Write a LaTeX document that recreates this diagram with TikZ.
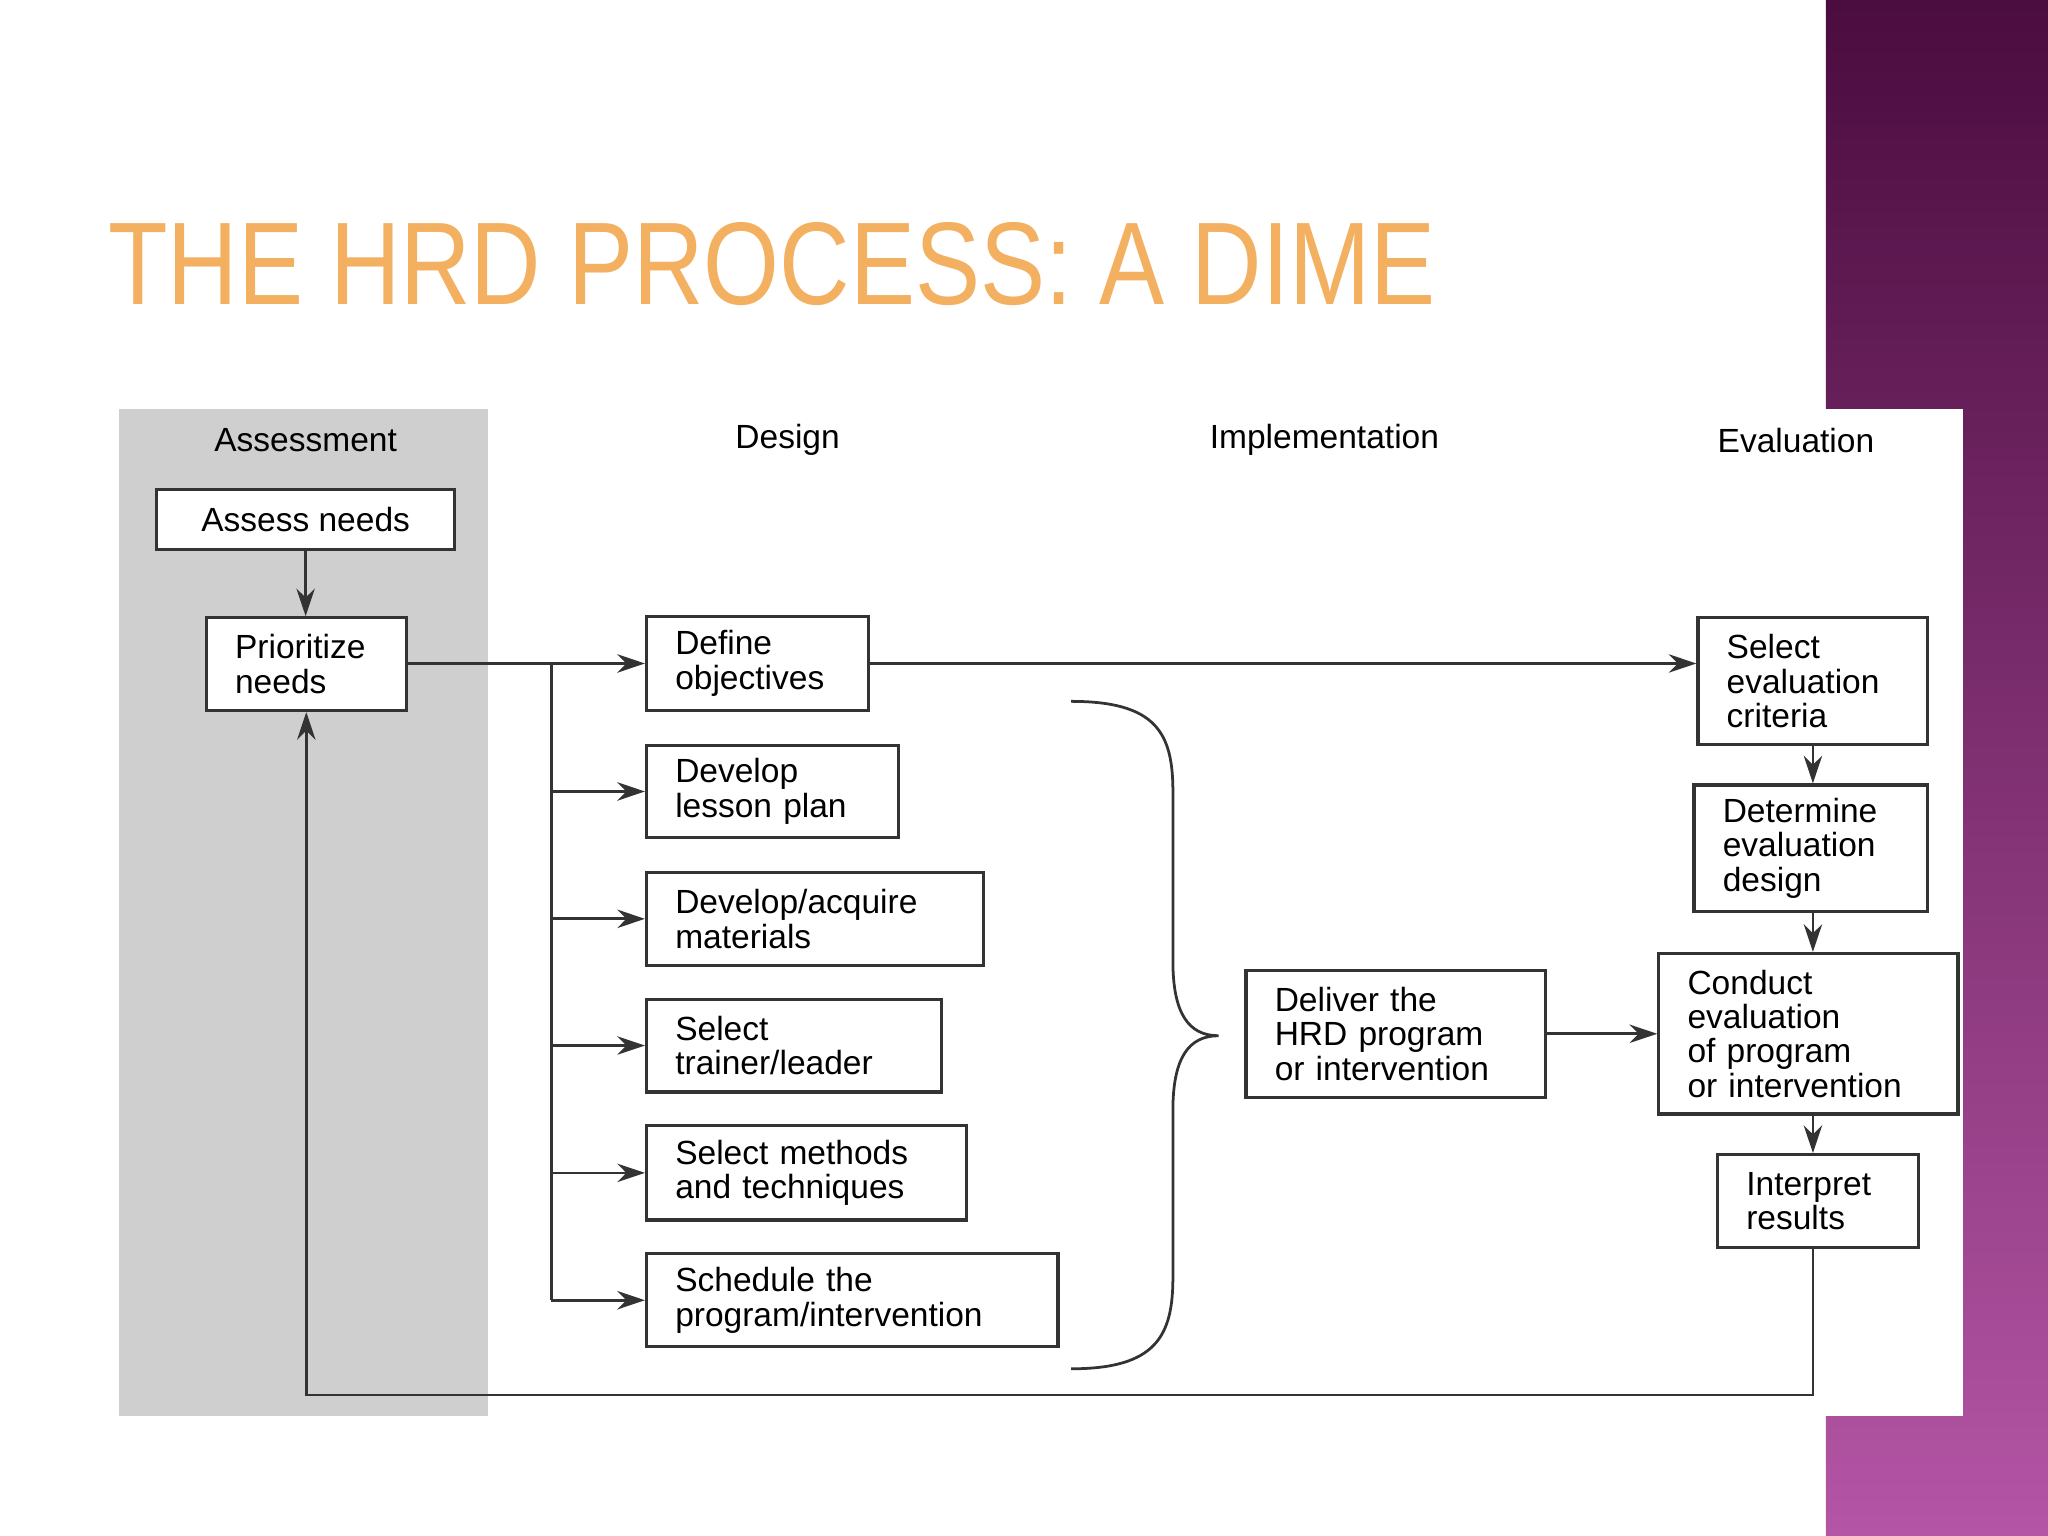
\documentclass[tikz,border=0pt]{standalone}
\usepackage{fontspec}
\setmainfont{Liberation Sans}
\usetikzlibrary{arrows.meta,calc}
\definecolor{titleor}{HTML}{F2B060}
\definecolor{colgrey}{HTML}{D0CFD0}
\tikzset{
  box/.style={draw=black!80,line width=0.7pt,inner xsep=0.22cm,inner ysep=0pt,align=left,font=\fontsize{7.3}{7.5}\selectfont,fill=white},
  hdr/.style={font=\fontsize{7.3}{8}\selectfont},
  arr/.style={line width=0.6pt,draw=black!80,-{Stealth[length=6pt,width=4pt]}},
  ln/.style={line width=0.6pt,draw=black!80}
}
\begin{document}
\begin{tikzpicture}
\useasboundingbox (0,0) rectangle (15.68,11.76);
\fill[white] (0,0) rectangle (15.68,11.76);
\shade[top color={rgb,255:red,75;green,12;blue,63},bottom color={rgb,255:red,180;green,85;blue,165}] (13.98,0) rectangle (15.68,11.76);
\node[text=titleor,font=\fontsize{25.6}{28}\selectfont,xscale=0.83] (title) at (5.91,9.74) {THE HRD PROCESS: A DIME};
\fill[white] (0.91,0.92) rectangle (15.03,8.63);
\fill[colgrey] (0.91,0.92) rectangle (3.74,8.63);
\node[hdr] (h1) at (2.34,8.39) {Assessment};
\node[hdr] (h2) at (6.03,8.39) {Design};
\node[hdr] (h3) at (10.14,8.39) {Implementation};
\node[hdr] (h4) at (13.75,8.39) {Evaluation};
\node[box,align=center,minimum width=2.28cm,minimum height=0.46cm] (assess) at (2.34,7.78) {Assess needs};
\node[box,text width=1.09cm,minimum height=0.71cm] (prior) at (2.345,6.675) {Prioritize\\needs};
\node[box,text width=1.26cm,minimum height=0.72cm] (defobj) at (5.80,6.68) {Define\\objectives};
\node[box,text width=1.49cm,minimum height=0.70cm] (lesson) at (5.915,5.70) {Develop\\lesson plan};
\node[box,text width=2.14cm,minimum height=0.71cm] (mater) at (6.24,4.725) {Develop/acquire\\materials};
\node[box,text width=1.82cm,minimum height=0.71cm] (trainer) at (6.08,3.755) {Select\\trainer/leader};
\node[box,text width=2.01cm,minimum height=0.72cm] (methods) at (6.175,2.78) {Select methods\\and techniques};
\node[box,text width=2.71cm,minimum height=0.71cm] (sched) at (6.525,1.805) {Schedule the\\program/intervention};
\node[box,text width=1.85cm,minimum height=0.97cm] (deliver) at (10.685,3.845) {Deliver the\\HRD program\\or intervention};
\node[box,text width=1.32cm,minimum height=0.97cm] (crit) at (13.88,6.545) {Select\\evaluation\\criteria};
\node[box,text width=1.35cm,minimum height=0.97cm] (edesign) at (13.865,5.265) {Determine\\evaluation\\design};
\node[box,text width=1.85cm,minimum height=1.23cm] (conduct) at (13.845,3.845) {Conduct\\evaluation\\of program\\or intervention};
\node[box,text width=1.10cm,minimum height=0.71cm] (interp) at (13.92,2.565) {Interpret\\results};
\coordinate (bt) at (4.22,6.68);
\coordinate (bb) at (4.22,1.805);
\coordinate (fb) at (13.88,1.08);
\draw[arr] (assess) -- (assess |- prior.north);
\draw[arr] (prior.east |- defobj) -- (defobj.west);
\draw[ln] (bt) -- (bb);
\foreach \n in {lesson,mater,trainer,methods,sched}{\draw[arr] (bt |- \n) -- (\n.west);}
\draw[arr] (defobj.east) -- (crit.west |- defobj);
\draw[arr] (crit.south -| fb) -- (fb |- edesign.north);
\draw[arr] (edesign.south -| fb) -- (fb |- conduct.north);
\draw[arr] (conduct.south -| fb) -- (fb |- interp.north);
\draw[arr] (deliver.east) -- (conduct.west |- deliver);
\draw[arr] (interp.south -| fb) -- (fb) -- (fb -| prior.south) -- (prior.south);
\draw[ln] (8.20,6.39) .. controls (8.85,6.39) and (8.98,6.15) .. (8.98,5.7) -- (8.98,4.4) .. controls (8.98,4.0) and (9.1,3.83) .. (9.33,3.83)
  .. controls (9.1,3.83) and (8.98,3.66) .. (8.98,3.26) -- (8.98,1.98) .. controls (8.98,1.53) and (8.85,1.28) .. (8.20,1.28);
\end{tikzpicture}
\end{document}
